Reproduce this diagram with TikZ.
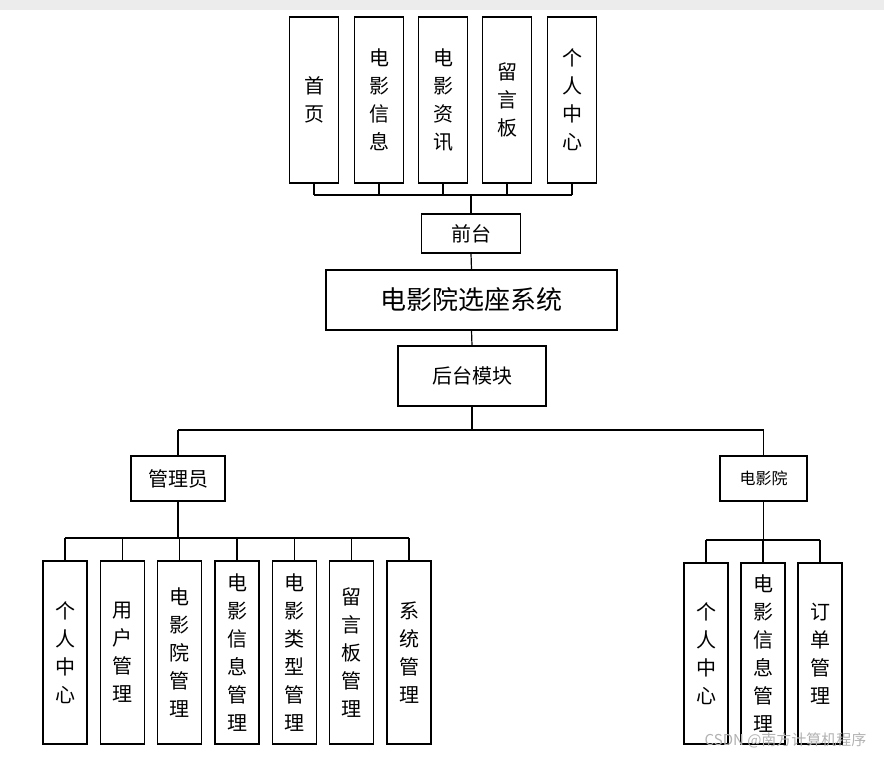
\documentclass[tikz,border=0pt]{standalone}
\usepackage{fontspec}
\newfontfamily\cjk{Noto Sans CJK SC}
\begin{document}
\begin{tikzpicture}[x=1pt,y=-1pt,
  bx/.style={draw,line width=1.2pt,inner sep=0pt,align=center,font=\cjk\fontsize{20}{28}\selectfont},
  ln/.style={line width=1.2pt}]
\useasboundingbox (0,0) rectangle (884,759);
\fill[gray!15] (0,0) rectangle (884,10);
% top
\foreach \n/\x/\t in {t1/314/首\\页, t2/379/电\\影\\信\\息, t3/443/电\\影\\资\\讯, t4/507/留\\言\\板, t5/572/个\\人\\中\\心}
  \node[bx,minimum width=49,minimum height=166] (\n) at (\x,100) {\t};
\node[bx,minimum width=99,minimum height=39] (qt) at (471,233.5) {前台};
\node[bx,minimum width=291,minimum height=60,font=\cjk\fontsize{26}{30}\selectfont] (sys) at (471.5,300) {电影院选座系统};
\node[bx,minimum width=148,minimum height=60] (ht) at (472,376) {后台模块};
\node[bx,minimum width=94,minimum height=45] (gly) at (178,478.5) {管理员};
\node[bx,minimum width=87,minimum height=45,font=\cjk\fontsize{16}{20}\selectfont] (dyy) at (763.5,478.5) {电影院};
\foreach \n/\x/\t in {a1/65/个\\人\\中\\心, a2/122.5/用\\户\\管\\理, a3/179.5/电\\影\\院\\管\\理, a4/237/电\\影\\信\\息\\管\\理, a5/294.5/电\\影\\类\\型\\管\\理, a6/351.5/留\\言\\板\\管\\理, a7/409/系\\统\\管\\理}
  \node[bx,minimum width=44,minimum height=183] (\n) at (\x,652.5) {\t};
\foreach \n/\x/\t in {b1/706/个\\人\\中\\心, b2/763/电\\影\\信\\息\\管\\理, b3/820/订\\单\\管\\理}
  \node[bx,minimum width=44,minimum height=181] (\n) at (\x,653.5) {\t};
% connectors
\coordinate (bt) at (0,195);
\foreach \n in {t1,t2,t3,t4,t5} \draw[ln] (\n.south) -- (\n.south |- bt);
\draw[ln] (t1.south |- bt) -- (t5.south |- bt);
\draw[ln] (qt.north) -- (qt.north |- bt);
\draw[ln] (qt.south) -- (sys.north);
\draw[ln] (sys.south) -- (ht.north);
\coordinate (bm) at (0,430);
\draw[ln] (ht.south) -- (ht.south |- bm);
\draw[ln] (gly.north |- bm) -- (dyy.north |- bm);
\draw[ln] (gly.north) -- (gly.north |- bm);
\draw[ln] (dyy.north) -- (dyy.north |- bm);
\coordinate (ba) at (0,538);
\draw[ln] (gly.south) -- (gly.south |- ba);
\draw[ln] (a1.north |- ba) -- (a7.north |- ba);
\foreach \n in {a1,a2,a3,a4,a5,a6,a7} \draw[ln] (\n.north) -- (\n.north |- ba);
\coordinate (bb) at (0,540);
\draw[ln] (dyy.south) -- (dyy.south |- bb);
\draw[ln] (b1.north |- bb) -- (b3.north |- bb);
\foreach \n in {b1,b2,b3} \draw[ln] (\n.north) -- (\n.north |- bb);
\node[anchor=east,text=gray!60,font=\cjk\fontsize{15}{18}\selectfont] (wm) at (870,740) {CSDN @南方计算机程序};
\end{tikzpicture}
\end{document}
